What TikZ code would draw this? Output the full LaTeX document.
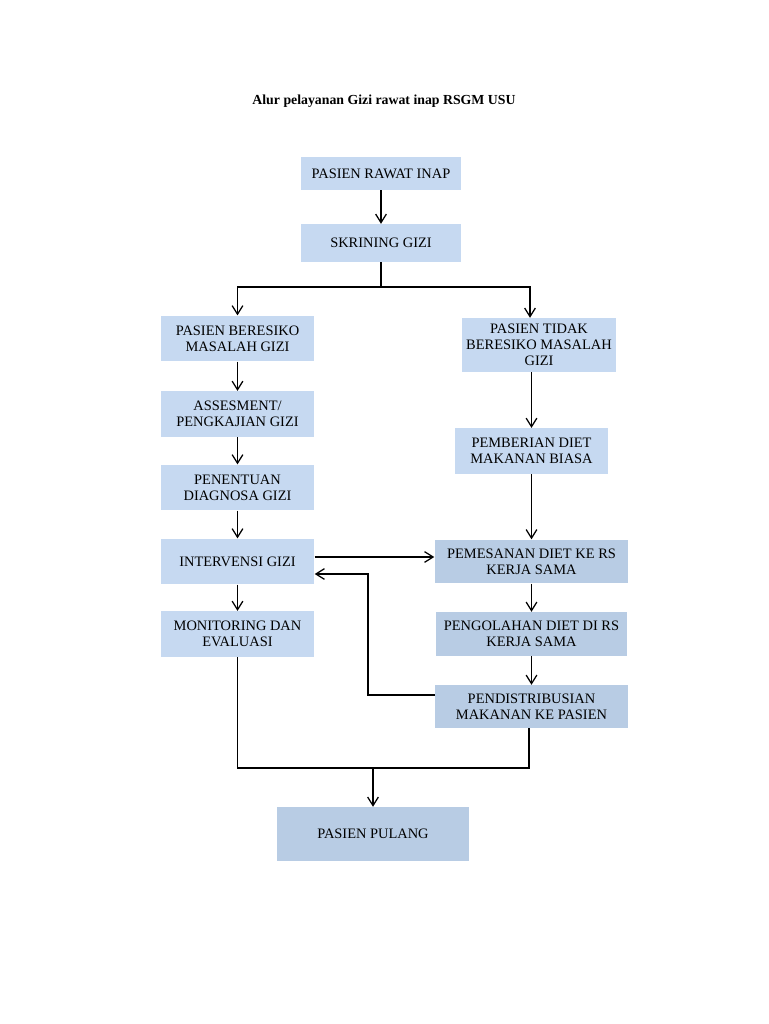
\documentclass[tikz,border=0pt]{standalone}
\usepackage{fontspec}
\setmainfont{Liberation Serif}
\usetikzlibrary{arrows.meta, positioning}

\definecolor{boxlight}{RGB}{198,217,241}
\definecolor{boxdark}{RGB}{184,204,228}

\begin{document}
\begin{tikzpicture}[
  x=0.028cm, y=-0.028cm,
  box/.style={
    fill=boxlight, minimum width=4.31cm, minimum height=1.28cm,
    inner sep=2pt, align=center, font=\fontsize{11.5}{12.8}\selectfont
  },
  darkbox/.style={box, fill=boxdark, minimum width=5.38cm, minimum height=1.23cm},
  arr/.style={-{Straight Barb[length=2.4mm, width=3mm]}, line width=1pt},
  line/.style={line width=1pt}
]
  \fill[white] (0,0) rectangle (768,1024);
  \useasboundingbox (0,0) rectangle (768,1024);

  \node[font=\bfseries\fontsize{11}{13}\selectfont] (title) at (384,101)
    {Alur pelayanan Gizi rawat inap RSGM USU};

  % top
  \node[box, minimum width=4.48cm, minimum height=0.92cm] (rawat) at (381,173.5) {PASIEN RAWAT INAP};
  \node[box, minimum width=4.5cm, minimum height=1.06cm] (skrining) at (381,243) {SKRINING GIZI};

  % left column
  \node[box] (beresiko) at (237.5,338.5) {PASIEN BERESIKO\\MASALAH GIZI};
  \node[box] (assesment) at (237.5,414) {ASSESMENT/\\PENGKAJIAN GIZI};
  \node[box] (diagnosa) at (237.5,487.5) {PENENTUAN\\DIAGNOSA GIZI};
  \node[box] (intervensi) at (237.5,561.5) {INTERVENSI GIZI};
  \node[box] (monitoring) at (237.5,634) {MONITORING DAN\\EVALUASI};

  % right column
  \node[box, minimum height=1.51cm] (tidak) at (539,345) {PASIEN TIDAK\\BERESIKO MASALAH\\GIZI};
  \node[box, minimum width=4.28cm] (pemberian) at (531.5,451) {PEMBERIAN DIET\\MAKANAN BIASA};
  \node[darkbox, minimum width=5.43cm] (pemesanan) at (531.5,561.5) {PEMESANAN DIET KE RS\\KERJA SAMA};
  \node[darkbox, minimum width=5.35cm] (pengolahan) at (531.5,634) {PENGOLAHAN DIET DI RS\\KERJA SAMA};
  \node[darkbox, minimum height=1.2cm] (distrib) at (531.5,706.5) {PENDISTRIBUSIAN\\MAKANAN KE PASIEN};

  \node[darkbox, minimum width=5.35cm, minimum height=1.51cm] (pulang) at (373,834) {PASIEN PULANG};

  \coordinate (fork) at (381,287);
  \coordinate (forkR) at (530,287);
  \coordinate (back) at (368,574);
  \coordinate (merge) at (373,768);
  \coordinate (mergeR) at (529,768);

  \draw[arr] (rawat) -- (skrining);
  \draw[arr] (skrining) -- (fork) -| (beresiko);
  \draw[arr] (fork) -- (forkR) -- (tidak.north -| forkR);

  \draw[arr] (beresiko) -- (assesment);
  \draw[arr] (assesment) -- (diagnosa);
  \draw[arr] (diagnosa) -- (intervensi);
  \draw[arr] (intervensi) -- (monitoring);

  \draw[arr] (tidak.south -| pemberian) -- (pemberian);
  \draw[arr] (pemberian) -- (pemesanan);
  \draw[arr] (pemesanan) -- (pengolahan);
  \draw[arr] (pengolahan) -- (distrib);

  \draw[arr] ([yshift=0.126cm]intervensi.east) -- ([yshift=0.126cm]pemesanan.west);
  \draw[arr] ([yshift=0.32cm]distrib.west) -| (back) -- (intervensi.east |- back);

  \draw[line] (monitoring) |- (mergeR) -- (distrib.south -| mergeR);
  \draw[arr] (merge) -- (pulang);
\end{tikzpicture}
\end{document}
